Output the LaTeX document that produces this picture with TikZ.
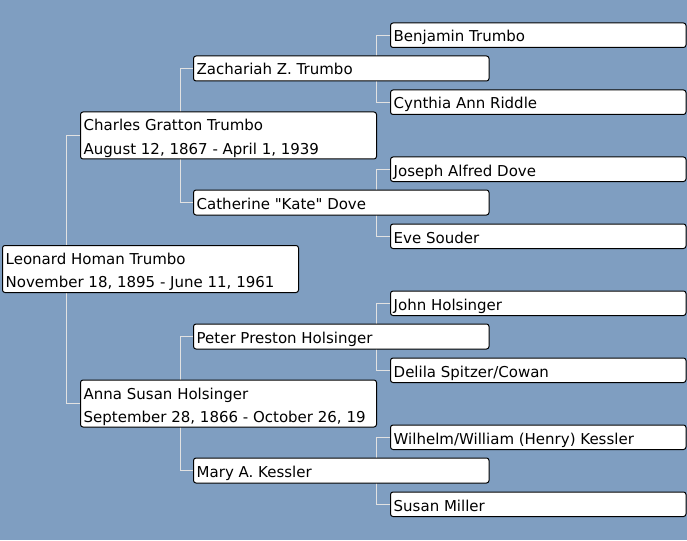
\documentclass[tikz,border=0pt]{standalone}
\usepackage{fontspec}
\setmainfont{DejaVu Sans}[Ligatures=TeXOff]
\usetikzlibrary{calc}
\pgfdeclarelayer{bg}
\pgfsetlayers{bg,main}
\definecolor{bgblue}{RGB}{127,158,193}
\definecolor{conn}{RGB}{226,226,226}
\tikzset{
  person/.style={draw=black, fill=white, rounded corners=2.5pt, line width=1pt, inner sep=0pt, outer sep=0pt, anchor=north west},
  gentwo/.style={person, minimum width=296pt, minimum height=47pt},
  genone/.style={person, minimum width=295.5pt, minimum height=25pt},
  ntext/.style={anchor=base west, inner sep=0pt, font=\fontsize{15}{18}\selectfont},
  link/.style={draw=conn, line width=1pt},
}
\begin{document}
\begin{tikzpicture}[x=1pt, y=-1pt]
\begin{pgfonlayer}{bg}
  \fill[bgblue] (0,0) rectangle (687,540);
\end{pgfonlayer}
\useasboundingbox (0,0) rectangle (687,540);
% generation 0 and 1
\node[gentwo] (leonard) at (2.5,245.5) {};
\node[gentwo] (charles) at (80.5,112) {};
\node[gentwo] (anna) at (80.5,380) {};
% generation 2
\node[genone] (zach) at (193.5,56) {};
\node[genone] (cath) at (193.5,190) {};
\node[genone] (peter) at (193.5,324) {};
\node[genone] (mary) at (193.5,458) {};
% generation 3
\node[genone, minimum height=24.5pt] (benj) at (390.5,23) {};
\node[genone, minimum height=24.5pt] (cynt) at (390.5,90) {};
\node[genone, minimum height=24.5pt] (jose) at (390.5,157) {};
\node[genone, minimum height=24.5pt] (eve) at (390.5,224) {};
\node[genone, minimum height=24.5pt] (john) at (390.5,291) {};
\node[genone, minimum height=24.5pt] (deli) at (390.5,358) {};
\node[genone, minimum height=24.5pt] (wilh) at (390.5,425) {};
\node[genone, minimum height=24.5pt] (susa) at (390.5,492) {};
% texts
\node[ntext] (leonard-a) at ($(leonard.north west)+(3,19)$) {Leonard Homan Trumbo};
\node[ntext] (leonard-b) at ($(leonard.north west)+(3,42)$) {November 18, 1895 - June 11, 1961};
\node[ntext] (charles-a) at ($(charles.north west)+(3,19)$) {Charles Gratton Trumbo};
\node[ntext] (charles-b) at ($(charles.north west)+(3,42)$) {August 12, 1867 - April 1, 1939};
\begin{scope}
  \clip ($(anna.north west)+(1,1)$) rectangle ($(anna.south east)+(-1,-1)$);
  \node[ntext] (anna-a) at ($(anna.north west)+(3,19)$) {Anna Susan Holsinger};
  \node[ntext] (anna-b) at ($(anna.north west)+(3,42)$) {September 28, 1866 - October 26, 19};
\end{scope}
\node[ntext] (zach-a) at ($(zach.north west)+(3,19)$) {Zachariah Z. Trumbo};
\node[ntext] (cath-a) at ($(cath.north west)+(3,19)$) {Catherine "Kate" Dove};
\node[ntext] (peter-a) at ($(peter.north west)+(3,19)$) {Peter Preston Holsinger};
\node[ntext] (mary-a) at ($(mary.north west)+(3,19)$) {Mary A. Kessler};
\node[ntext] (benj-a) at ($(benj.north west)+(3,19)$) {Benjamin Trumbo};
\node[ntext] (cynt-a) at ($(cynt.north west)+(3,19)$) {Cynthia Ann Riddle};
\node[ntext] (jose-a) at ($(jose.north west)+(3,19)$) {Joseph Alfred Dove};
\node[ntext] (eve-a) at ($(eve.north west)+(3,19)$) {Eve Souder};
\node[ntext] (john-a) at ($(john.north west)+(3,19)$) {John Holsinger};
\node[ntext] (deli-a) at ($(deli.north west)+(3,19)$) {Delila Spitzer/Cowan};
\node[ntext] (wilh-a) at ($(wilh.north west)+(3,19)$) {Wilhelm/William (Henry) Kessler};
\node[ntext] (susa-a) at ($(susa.north west)+(3,19)$) {Susan Miller};
% connectors
\begin{pgfonlayer}{bg}
  \draw[link] (charles.west) -- ++(-14,0) |- (anna.west);
  \draw[link] (zach.west) -- ++(-13,0) |- (cath.west);
  \draw[link] (peter.west) -- ++(-13,0) |- (mary.west);
  \draw[link] (benj.west) -- ++(-14,0) |- (cynt.west);
  \draw[link] (jose.west) -- ++(-14,0) |- (eve.west);
  \draw[link] (john.west) -- ++(-14,0) |- (deli.west);
  \draw[link] (wilh.west) -- ++(-14,0) |- (susa.west);
\end{pgfonlayer}
\end{tikzpicture}
\end{document}
